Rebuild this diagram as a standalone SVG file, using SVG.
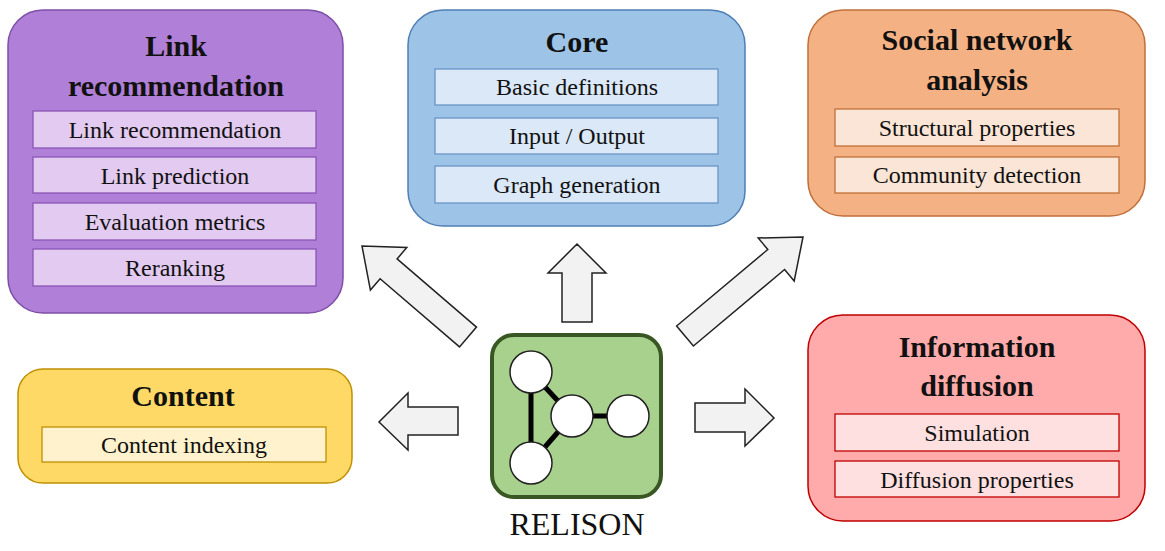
<svg xmlns="http://www.w3.org/2000/svg" width="1165" height="551" viewBox="0 0 1165 551">
<style>
text{font-family:"Liberation Serif","DejaVu Serif",serif;fill:#111;text-anchor:middle}
.t{font-size:30px;font-weight:bold}
.i{font-size:24px}
.ib{stroke-width:1.3}
.ar{fill:#f2f2f2;stroke:#222;stroke-width:1.5}
</style>
<rect width="1165" height="551" fill="#fff"/>
<g id="link">
<rect x="8" y="10" width="335" height="303" rx="35" fill="#b07fd8" stroke="#7f4fa8" stroke-width="1.5"/>
<text class="t" x="176" y="56">Link</text>
<text class="t" x="176" y="96">recommendation</text>
<g fill="#e2caf0" stroke="#8a55b5" class="ib">
<rect x="33" y="111" width="283" height="37"/><rect x="33" y="157" width="283" height="36"/>
<rect x="33" y="203" width="283" height="37"/><rect x="33" y="249" width="283" height="37"/></g>
<text class="i" x="175" y="138">Link recommendation</text>
<text class="i" x="175" y="184">Link prediction</text>
<text class="i" x="175" y="230">Evaluation metrics</text>
<text class="i" x="175" y="276">Reranking</text>
</g>
<g id="core">
<rect x="408" y="10" width="337" height="216" rx="35" fill="#9dc3e6" stroke="#4f7fb5" stroke-width="1.5"/>
<text class="t" x="577" y="52">Core</text>
<g fill="#dae8f7" stroke="#6a95c8" class="ib">
<rect x="435" y="69" width="283" height="36"/><rect x="435" y="118" width="283" height="36"/><rect x="435" y="166" width="283" height="37"/></g>
<text class="i" x="577" y="95">Basic definitions</text>
<text class="i" x="577" y="144">Input / Output</text>
<text class="i" x="577" y="193">Graph generation</text>
</g>
<g id="sna">
<rect x="808" y="10" width="337" height="206" rx="35" fill="#f4b183" stroke="#c0703a" stroke-width="1.5"/>
<text class="t" x="977" y="50">Social network</text>
<text class="t" x="977" y="90">analysis</text>
<g fill="#fbe5d6" stroke="#c0703a" class="ib">
<rect x="835" y="109" width="284" height="37"/><rect x="835" y="157" width="284" height="36"/></g>
<text class="i" x="977" y="136">Structural properties</text>
<text class="i" x="977" y="183">Community detection</text>
</g>
<g id="content">
<rect x="18" y="369" width="334" height="114" rx="25" fill="#ffd966" stroke="#bf9000" stroke-width="1.5"/>
<text class="t" x="183" y="406">Content</text>
<rect x="42" y="427" width="284" height="35" fill="#fff2cc" stroke="#bf9000" class="ib"/>
<text class="i" x="184" y="453">Content indexing</text>
</g>
<g id="info">
<rect x="808" y="315" width="337" height="206" rx="35" fill="#ffabab" stroke="#c00000" stroke-width="1.5"/>
<text class="t" x="977" y="357">Information</text>
<text class="t" x="977" y="396">diffusion</text>
<g fill="#ffe0e0" stroke="#c00000" class="ib">
<rect x="835" y="414" width="284" height="37"/><rect x="835" y="461" width="284" height="36"/></g>
<text class="i" x="977" y="441">Simulation</text>
<text class="i" x="977" y="488">Diffusion properties</text>
</g>
<g id="relison">
<rect x="492" y="335" width="169" height="162" rx="22" fill="#a9d18e" stroke="#385723" stroke-width="4"/>
<g stroke="#000" stroke-width="5"><line x1="531" y1="372" x2="531" y2="463"/><line x1="531" y1="372" x2="572" y2="416"/><line x1="531" y1="463" x2="572" y2="416"/><line x1="572" y1="416" x2="628" y2="416"/></g>
<g fill="#fff" stroke="#222" stroke-width="1.5"><circle cx="531" cy="372" r="21"/><circle cx="572" cy="416" r="21"/><circle cx="628" cy="416" r="21"/><circle cx="531" cy="463" r="21"/></g>
<text x="577" y="535" style="font-size:32px">RELISON</text>
</g>
<g id="connectors">
<polygon class="ar" points="562,322 562,273 548,273 577,244 606,273 592,273 592,322"/>
<polygon class="ar" points="458,407 408,407 408,393 379,422 408,450 408,435 458,435"/>
<polygon class="ar" points="695,403 745,403 745,389 774,418 745,446 745,432 695,432"/>
<polygon class="ar" points="476.5,327.1 397.1,258.9 406.8,247.5 362,246 370.4,290.1 380.1,278.7 459.5,346.9"/>
<polygon class="ar" points="693.4,346 784.6,269.5 794.2,281 803,237 758.2,238 767.8,249.5 676.6,326"/>
</g>
</svg>
